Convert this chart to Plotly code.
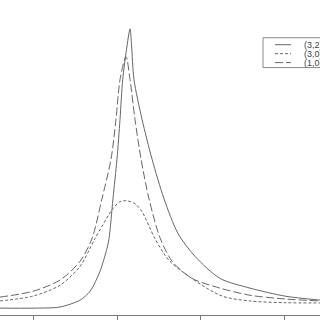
import plotly.graph_objects as go

# Series (x in tick units, y normalised to the solid peak)
series_names = ["(3,2)", "(3,0)", "(1,0)"]

solid_x = [-1.393, -1.0, -0.679, -0.440, -0.321, -0.202, -0.119, -0.095, -0.048, 0.0, 0.036, 0.068, 0.113, 0.155,
           0.173, 0.202, 0.298, 0.417, 0.560, 0.726, 0.929, 1.226, 1.583, 2.0, 2.417]
solid_y = [0.024, 0.024, 0.028, 0.052, 0.083, 0.153, 0.233, 0.267, 0.406, 0.545, 0.684, 0.823, 0.927, 1.0,
           0.944, 0.823, 0.684, 0.545, 0.406, 0.285, 0.205, 0.128, 0.094, 0.066, 0.052]

short_x = [-1.393, -1.0, -0.679, -0.440, -0.262, -0.048, 0.036, 0.119, 0.214, 0.298, 0.452, 0.631, 1.226, 1.583, 2.0, 2.417]
short_y = [0.049, 0.066, 0.104, 0.170, 0.267, 0.372, 0.396, 0.399, 0.389, 0.361, 0.267, 0.1875, 0.069, 0.049, 0.043, 0.042]

long_x = [-1.393, -1.0, -0.679, -0.440, -0.298, -0.179, -0.071, -0.012, 0.036, 0.107, 0.155, 0.214, 0.286, 0.381,
          0.512, 0.655, 0.893, 1.226, 1.583, 2.0, 2.417]
long_y = [0.0625, 0.083, 0.122, 0.1875, 0.267, 0.406, 0.545, 0.684, 0.823, 0.903, 0.823, 0.684, 0.545, 0.406,
          0.270, 0.188, 0.128, 0.094, 0.069, 0.056, 0.049]

x_ticks = [-1, 0, 1, 2]

line_color = "#666666"
dashes = ["solid", "3px,2px", "8px,3px"]
xs = [solid_x, short_x, long_x]
ys = [solid_y, short_y, long_y]

fig = go.Figure()
for name, x, y, d in zip(series_names, xs, ys, dashes):
    fig.add_trace(go.Scatter(x=x, y=y, mode="lines", name=name, showlegend=False,
                             line=dict(color=line_color, width=1, dash=d, shape="spline", smoothing=0.8)))

# manual legend (the reference crops it at the right edge)
W, H = 320, 317
def px(v):
    return v / W
def py(v):
    return (H - v) / H

shapes = [dict(type="rect", xref="paper", yref="paper", x0=px(263), x1=px(340), y0=py(68), y1=py(38),
               line=dict(color="#888888", width=1), fillcolor="white")]
annotations = []
for i, (name, d) in enumerate(zip(series_names, dashes)):
    yy = 45 + 9 * i
    shapes.append(dict(type="line", xref="paper", yref="paper", x0=px(275), x1=px(291), y0=py(yy), y1=py(yy),
                       line=dict(color=line_color, width=1, dash=d)))
    annotations.append(dict(xref="paper", yref="paper", x=px(302), y=py(yy), xanchor="left", yanchor="middle",
                            text=name, showarrow=False, font=dict(size=9, color="#444444", family="Liberation Sans")))

fig.update_layout(
    width=320, height=320, margin=dict(l=0, r=0, t=0, b=3),
    plot_bgcolor="white", paper_bgcolor="white",
    shapes=shapes, annotations=annotations,
    xaxis=dict(range=[-1.393, 2.417], tickvals=x_ticks, showticklabels=False, ticks="outside", ticklen=5,
               tickcolor="#777777", showline=True, linecolor="#777777", linewidth=1, showgrid=False, zeroline=False),
    yaxis=dict(range=[0, 1.1007], showticklabels=False, showgrid=False, zeroline=False, showline=False),
)

fig.write_html("out.html")
